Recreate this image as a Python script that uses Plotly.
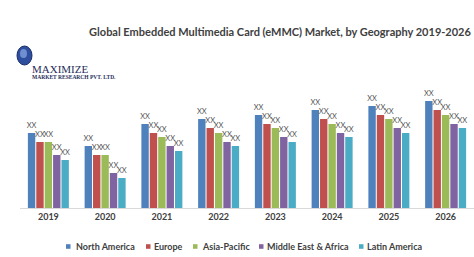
import plotly.graph_objects as go

years = ["2019", "2020", "2021", "2022", "2023", "2024", "2025", "2026"]
regions = ["North America", "Europe", "Asia-Pacific", "Middle East & Africa", "Latin America"]
colors = ["#4F81BD", "#C0504D", "#9BBB59", "#8064A2", "#4BACC6"]

north_america = [75, 62, 84, 89, 93, 98, 102, 107]
europe = [66, 53, 75, 80, 84, 89, 93, 98]
asia_pacific = [66, 53, 71, 75, 80, 84, 89, 93]
mea = [53, 35, 62, 66, 71, 75, 80, 84]
latin_america = [48, 30, 57, 62, 66, 71, 75, 80]
series = [north_america, europe, asia_pacific, mea, latin_america]
label_text = "XX"

W, H = 474, 257
ML, MR, MT, MB = 20, 0, 60, 49
PW, PH = W - ML - MR, H - MT - MB


def px(x):
    return (x - ML) / PW


def py(y):
    return (H - MB - y) / PH


fig = go.Figure()
for name, vals, col in zip(regions, series, colors):
    fig.add_trace(go.Bar(
        x=years, y=vals, name=name, marker=dict(color=col, line=dict(width=0)),
        text=[label_text] * len(vals), textposition="outside", constraintext="none",
        textfont=dict(family="Lato", size=7.5, color="#595959"),
        cliponaxis=False, showlegend=False,
    ))

fig.update_layout(
    width=W, height=H,
    margin=dict(l=ML, r=MR, t=MT, b=MB),
    paper_bgcolor="white", plot_bgcolor="white",
    barmode="group", bargap=0.26, bargroupgap=0.12,
    showlegend=False,
    xaxis=dict(showline=True, linecolor="#D9D9D9", linewidth=1, ticks="",
               tickfont=dict(family="Lato", size=9, color="#404040", weight="bold"),
               showgrid=False),
    yaxis=dict(visible=False, range=[0, PH], showgrid=False),
    title=dict(text="<b>Global Embedded Multimedia Card (eMMC) Market, by Geography 2019-2026</b>",
               x=(280) / W, xanchor="center", y=1 - 32 / H, yanchor="middle",
               font=dict(family="Lato", size=11, color="#404040")),
)

# manual legend
marker_x = [66, 146, 193, 259, 359]
text_x = [74, 152, 200, 265, 365]
leg_y = 246.5
for name, col, mx, tx in zip(regions, colors, marker_x, text_x):
    fig.add_shape(type="rect", xref="paper", yref="paper",
                  x0=px(mx), x1=px(mx + 4.5), y0=py(leg_y + 2.3), y1=py(leg_y - 2.3),
                  fillcolor=col, line=dict(width=0))
    fig.add_annotation(text="<b>" + name + "</b>", xref="paper", yref="paper",
                       x=px(tx), y=py(leg_y), xanchor="left", yanchor="middle",
                       showarrow=False,
                       font=dict(family="Lato", size=9, color="#404040"))

# logo
fig.add_shape(type="circle", xref="paper", yref="paper",
              x0=px(17), x1=px(32), y0=py(65), y1=py(46),
              fillcolor="#2E4F9E", line=dict(color="#1B2E6B", width=1))
fig.add_shape(type="circle", xref="paper", yref="paper",
              x0=px(20), x1=px(27), y0=py(58), y1=py(49),
              fillcolor="#6F8FD0", line=dict(width=0))
fig.add_annotation(text="MAXIMIZE", xref="paper", yref="paper", x=px(30), y=py(68.5),
                   xanchor="left", yanchor="middle", showarrow=False,
                   font=dict(family="Liberation Serif", size=11, color="#1F2D5A"))
fig.add_annotation(text="<b>MARKET RESEARCH PVT. LTD.</b>", xref="paper", yref="paper", x=px(30), y=py(77),
                   xanchor="left", yanchor="middle", showarrow=False,
                   font=dict(family="Liberation Serif", size=5.5, color="#1F2D5A"))

fig.write_html("out.html")
